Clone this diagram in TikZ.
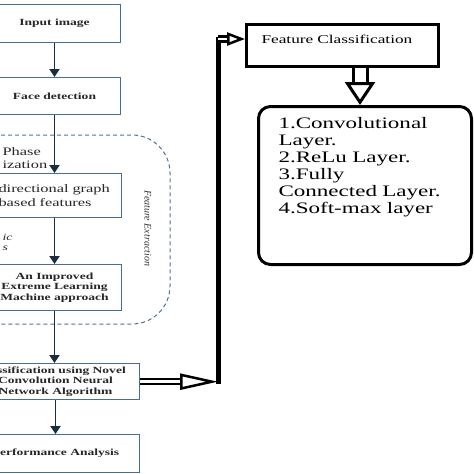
\documentclass[tikz,border=0pt]{standalone}
\usepackage{fontspec}
\setmainfont{Liberation Serif}
\newfontfamily\wideserif{Liberation Serif}[FakeStretch=1.44]
\usetikzlibrary{arrows.meta,calc}

\definecolor{boxblue}{RGB}{70,110,150}
\definecolor{flowdark}{RGB}{25,45,62}
\definecolor{dashblue}{RGB}{80,115,150}

\begin{document}
\begin{tikzpicture}[x=1pt, y=-1pt,
  stage/.style={draw=boxblue, line width=1pt, anchor=north east, align=center, text=black!85,
    font=\wideserif\bfseries\fontsize{9.4}{10.5}\selectfont},
  flow/.style={draw=flowdark, line width=1.8pt, -{Triangle[length=8pt, width=10pt]}},
  side/.style={text=black!85, align=left, font=\wideserif\fontsize{11.4}{13}\selectfont},
  hollow/.style={double, line width=2.5pt, double distance=2.5pt}]
  \useasboundingbox (0,0) rectangle (474,474);
  \clip (0,0) rectangle (474,474);

  % feature extraction group
  \draw[dashblue, line width=1pt, dash pattern=on 4pt off 3pt, rounded corners=38pt]
    (-60,135) rectangle (170,324);
  \node[rotate=-90, text=black!80, font=\itshape\fontsize{10}{11}\selectfont] (fext) at (148,228) {Feature Extraction};

  % left column
  \node[stage, minimum width=132pt, minimum height=38pt] (inp) at (121,4) {Input image};
  \node[stage, minimum width=132pt, minimum height=37pt] (face) at (121,77) {Face detection};
  \node[stage, minimum height=44pt, align=left, text width=112pt, inner xsep=11pt,
    font=\wideserif\fontsize{11.4}{14}\selectfont] (graph) at (122,173) {directional graph\\based features};
  \node[stage, minimum width=134pt, minimum height=46pt] (elm) at (122,264) {An Improved\\Extreme Learning\\Machine approach};
  \node[stage, minimum width=168pt, minimum height=36pt] (cls) at (140,363) {\hspace*{12pt}ssification using Novel\\Convolution Neural\\Network Algorithm};
  \node[stage, minimum width=168pt, minimum height=38pt] (perf) at (140,434) {\hphantom{P}erformance Analysis};

  \node[side, anchor=west] (phase) at (-1,158.5) {Phase\\ization};
  \node[side, anchor=west, font=\wideserif\itshape\fontsize{9.5}{10}\selectfont] (geo) at (-1,242) {ic\\s};

  \draw[flow] (inp) -- (face);
  \draw[flow] (face) -- (graph);
  \draw[flow] (graph) -- (elm);
  \draw[flow] (elm.south) -- (elm.south |- cls.north);
  \draw[flow] (cls) -- (perf);

  % right side
  \node[draw, line width=3pt, anchor=north west, text width=162pt, inner xsep=15pt, inner ysep=4pt,
    text height=15pt, text depth=19pt, align=left, font=\wideserif\fontsize{12}{14}\selectfont] (fclass) at (245,23) {Feature Classification};
  \node[draw, line width=3pt, rounded corners=12pt, anchor=north west, text width=173pt, inner xsep=20pt,
    inner ysep=0pt, text height=22pt, text depth=136pt, align=left,
    font=\wideserif\fontsize{16}{17}\selectfont] (layers) at (257,105)
    {1.Convolutional\\Layer.\\2.ReLu Layer.\\3.Fully\\Connected Layer.\\4.Soft-max layer};

  \coordinate (bend) at (218,39);
  \draw[hollow, -{Triangle[open, length=38pt, width=16pt]}] (cls.east) -- (cls.east -| bend);
  \draw[line width=5pt, line cap=rect] (cls.east -| bend) -- (bend);
  \draw[hollow, -{Triangle[open, length=18pt, width=13pt]}] (bend) -- (fclass.west |- bend);
  \draw[line width=3pt, double distance=11pt, -{Triangle[open, length=23pt, width=30pt]}]
    ([xshift=-5pt]layers.north |- fclass.south) -- ([xshift=-5pt]layers.north);
\end{tikzpicture}
\end{document}
